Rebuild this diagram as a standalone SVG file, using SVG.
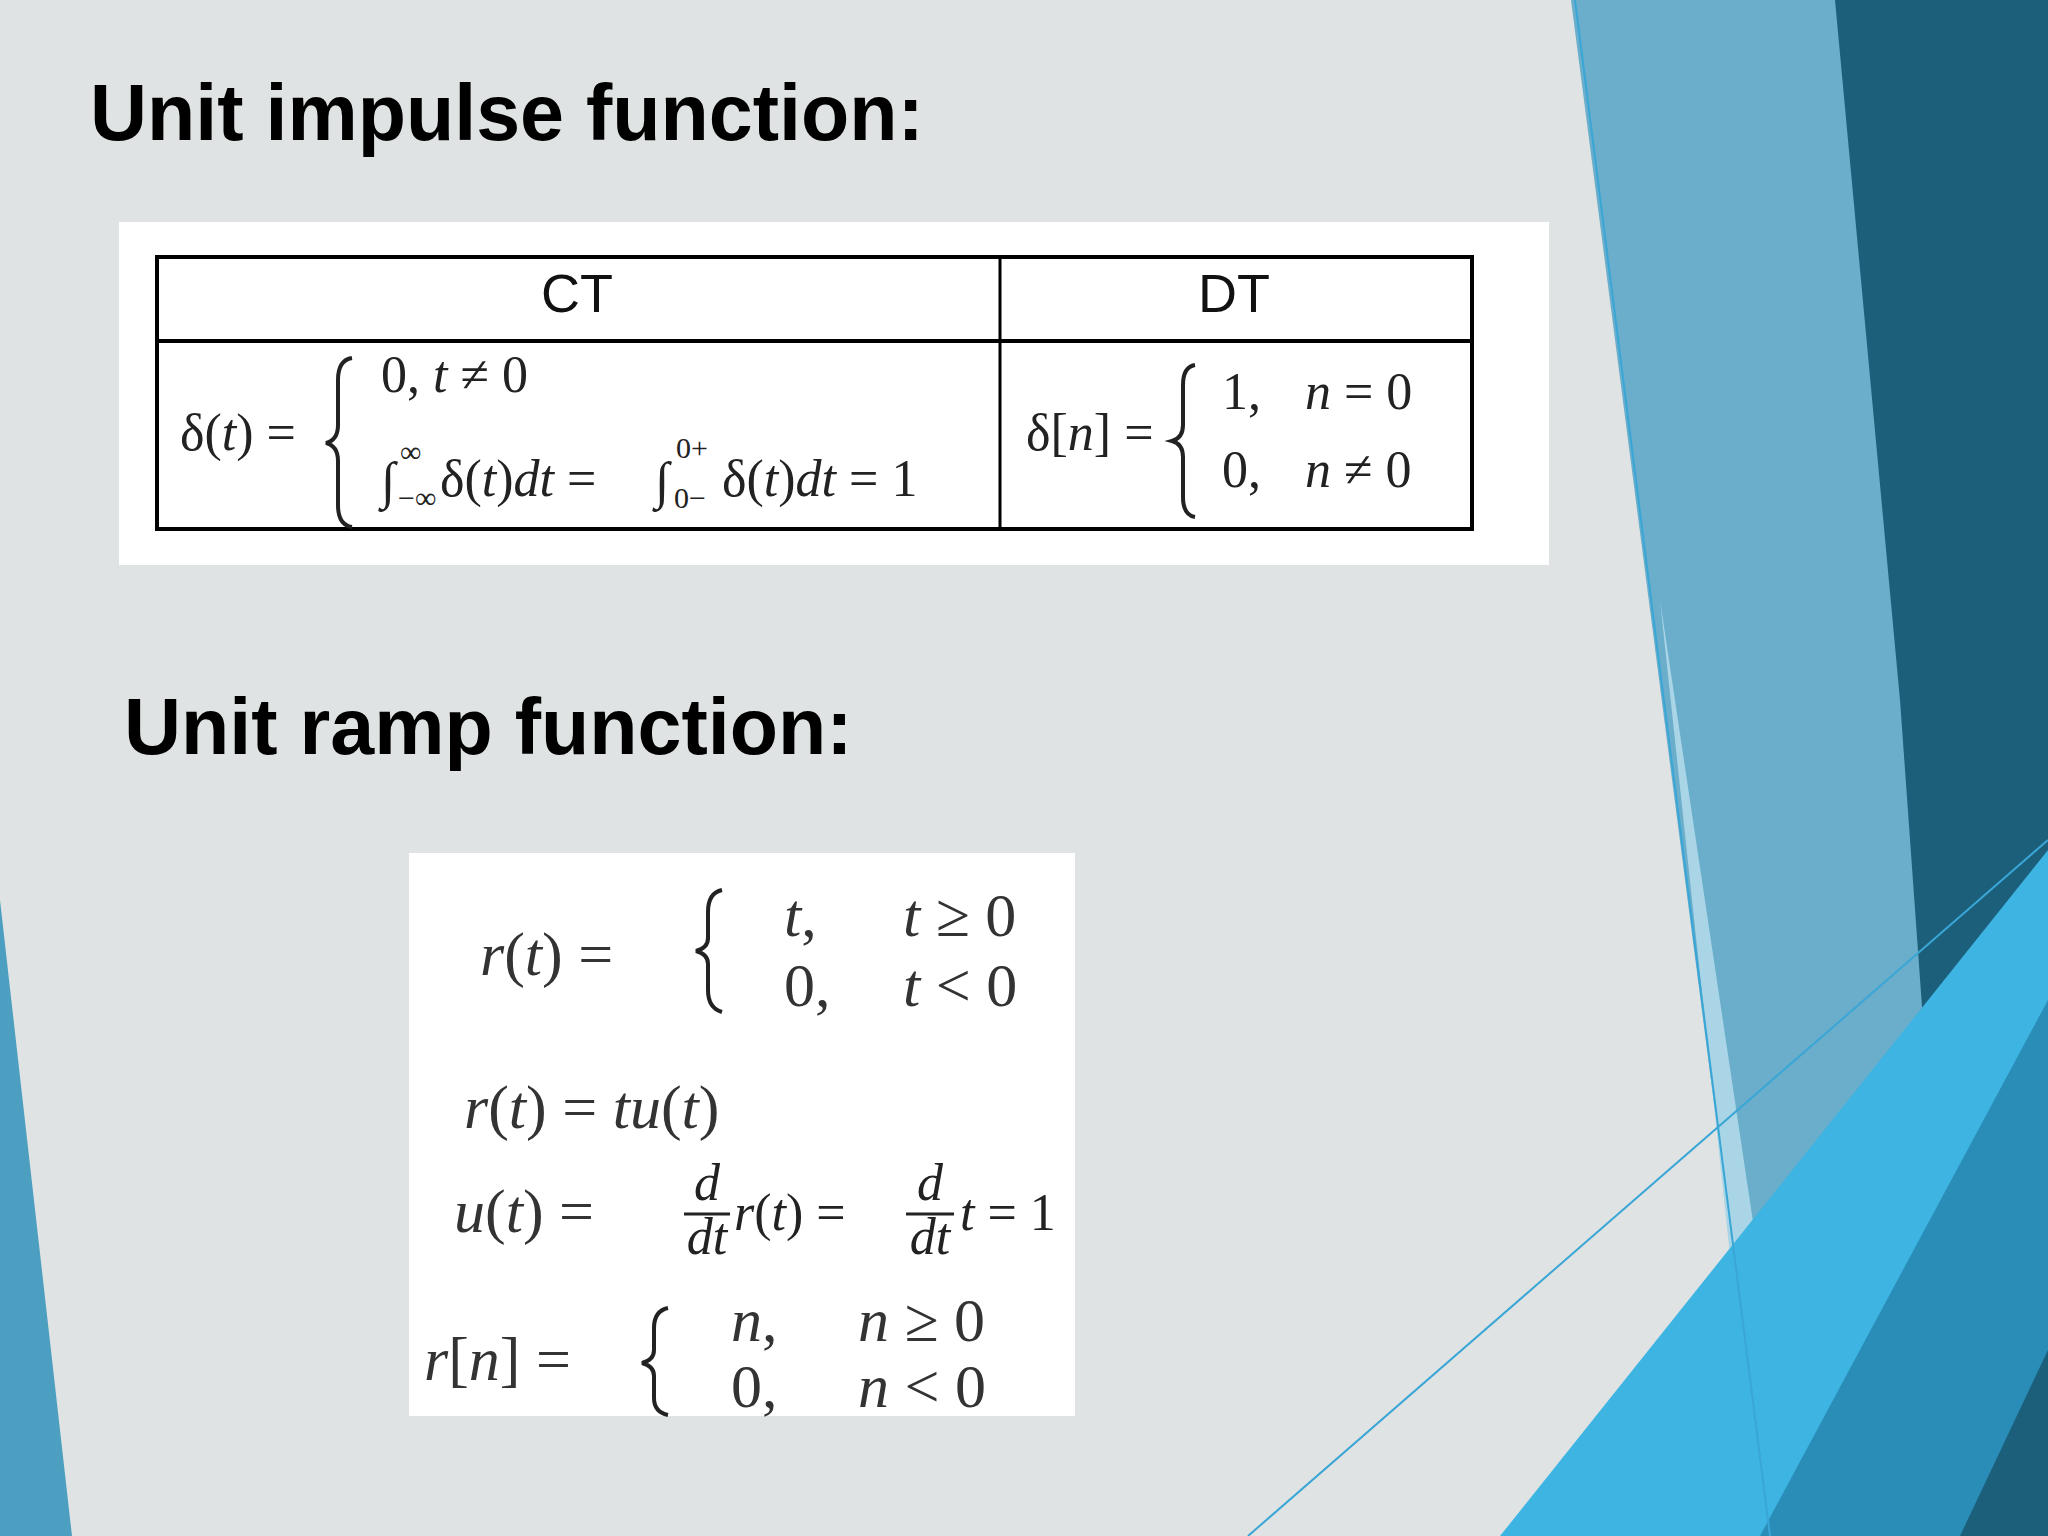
<svg xmlns="http://www.w3.org/2000/svg" width="2048" height="1536" viewBox="0 0 2048 1536">
<style>
.h{font-family:"Liberation Sans",Arial,sans-serif;font-weight:bold;font-size:79px;fill:#000}
.m{font-family:"Liberation Serif","DejaVu Serif",serif;font-size:52px;fill:#222}
.r{font-family:"Liberation Serif","DejaVu Serif",serif;font-size:62px;fill:#333}
.s{font-family:"Liberation Serif","DejaVu Serif",serif;font-size:30px;fill:#222}
.i{font-style:italic}
.hd{font-family:"Liberation Sans",Arial,sans-serif;font-size:54px;fill:#111}
.br{fill:none;stroke:#222;stroke-width:4}
</style>
<rect width="2048" height="1536" fill="#e0e3e3"/>
<g id="decor">
<polygon points="1571,0 2048,0 2048,1536 1770,1536" fill="#6aaecb"/>
<polygon points="1835,0 2048,0 2048,1536 1960,1536 1900,700" fill="#1b5f7a"/>
<polygon points="1660,600 1800,1536 1760,1536" fill="#a9d5e6"/>
<polygon points="1500,1536 2048,850 2048,1200 1900,1536" fill="#3db4e2"/>
<polygon points="1760,1536 2048,1000 2048,1536" fill="#2a8db8"/>
<polygon points="1960,1536 2048,1350 2048,1536" fill="#1b5f7a"/>
<polygon points="0,900 0,1536 72,1536" fill="#4d9fc1"/>
<line x1="1575" y1="0" x2="1770" y2="1536" stroke="#3aa6d6" stroke-width="2"/>
<line x1="1248" y1="1536" x2="2048" y2="840" stroke="#3aa6d6" stroke-width="2"/>
</g>
<g id="title1"><text class="h" x="90" y="140">Unit impulse function:</text></g>
<g id="impulse">
<rect x="119" y="222" width="1430" height="343" fill="#fff"/>
<rect x="157" y="257" width="1315" height="272" fill="none" stroke="#000" stroke-width="4"/>
<line x1="157" y1="341" x2="1472" y2="341" stroke="#000" stroke-width="4"/>
<line x1="1000" y1="257" x2="1000" y2="529" stroke="#000" stroke-width="3"/>
<text class="hd" x="577" y="312" text-anchor="middle">CT</text>
<text class="hd" x="1234" y="312" text-anchor="middle">DT</text>
<text class="m" x="180" y="450">δ(<tspan class="i">t</tspan>) =</text>
<path class="br" d="M352,358 Q338,360 338,380 L338,425 Q338,440 326,443 Q338,446 338,461 L338,505 Q338,525 352,527"/>
<text class="m" x="381" y="392">0, <tspan class="i">t</tspan> ≠ 0</text>
<text class="m" x="381" y="498">∫</text>
<text class="s" x="400" y="462">∞</text>
<text class="s" x="398" y="508">−∞</text>
<text class="m" x="440" y="496">δ(<tspan class="i">t</tspan>)<tspan class="i">dt</tspan> = </text>
<text class="m" x="655" y="498">∫</text>
<text class="s" x="676" y="458">0+</text>
<text class="s" x="674" y="508">0−</text>
<text class="m" x="722" y="496">δ(<tspan class="i">t</tspan>)<tspan class="i">dt</tspan> = 1</text>
<text class="m" x="1026" y="450">δ[<tspan class="i">n</tspan>] =</text>
<path class="br" d="M1195,365 Q1183,367 1183,385 L1183,425 Q1183,438 1172,441 Q1183,444 1183,457 L1183,497 Q1183,515 1195,517"/>
<text class="m" x="1222" y="409">1,</text><text class="m" x="1305" y="409"><tspan class="i">n</tspan> = 0</text>
<text class="m" x="1222" y="487">0,</text><text class="m" x="1305" y="487"><tspan class="i">n</tspan> ≠ 0</text>
</g>
<g id="title2"><text class="h" x="124" y="754">Unit ramp function:</text></g>
<g id="ramp">
<rect x="409" y="853" width="666" height="563" fill="#fff"/>
<text class="r" x="480" y="975"><tspan class="i">r</tspan>(<tspan class="i">t</tspan>) =</text>
<path class="br" d="M722,890 Q708,893 708,912 L708,938 Q708,948 696,951 Q708,954 708,964 L708,990 Q708,1008 722,1012"/>
<text class="r" x="784" y="936"><tspan class="i">t</tspan>,</text><text class="r" x="903" y="936"><tspan class="i">t</tspan> ≥ 0</text>
<text class="r" x="784" y="1006">0,</text><text class="r" x="903" y="1006"><tspan class="i">t</tspan> &lt; 0</text>
<text class="r" x="464" y="1128"><tspan class="i">r</tspan>(<tspan class="i">t</tspan>) = <tspan class="i">tu</tspan>(<tspan class="i">t</tspan>)</text>
<text class="r" x="454" y="1232"><tspan class="i">u</tspan>(<tspan class="i">t</tspan>) =</text>
<text class="m i" x="707" y="1200" font-size="34" text-anchor="middle">d</text>
<line x1="684" y1="1214" x2="730" y2="1214" stroke="#222" stroke-width="3"/>
<text class="m i" x="707" y="1254" font-size="34" text-anchor="middle">dt</text>
<text class="m" x="734" y="1230" font-size="36"><tspan class="i">r</tspan>(<tspan class="i">t</tspan>) =</text>
<text class="m i" x="930" y="1200" font-size="34" text-anchor="middle">d</text>
<line x1="906" y1="1214" x2="954" y2="1214" stroke="#222" stroke-width="3"/>
<text class="m i" x="930" y="1254" font-size="34" text-anchor="middle">dt</text>
<text class="m" x="960" y="1230" font-size="36"><tspan class="i">t</tspan> = 1</text>
<text class="r" x="424" y="1380"><tspan class="i">r</tspan>[<tspan class="i">n</tspan>] =</text>
<path class="br" d="M668,1308 Q654,1311 654,1328 L654,1350 Q654,1360 642,1363 Q654,1366 654,1376 L654,1398 Q654,1412 668,1415"/>
<text class="r" x="731" y="1341"><tspan class="i">n</tspan>,</text><text class="r" x="858" y="1341"><tspan class="i">n</tspan> ≥ 0</text>
<text class="r" x="731" y="1407">0,</text><text class="r" x="858" y="1407"><tspan class="i">n</tspan> &lt; 0</text>
</g>
</svg>
